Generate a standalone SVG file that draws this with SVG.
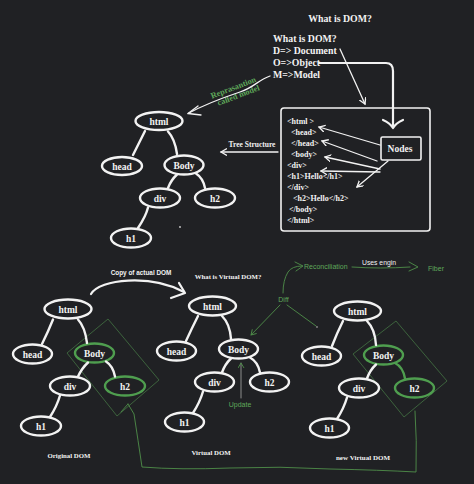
<svg xmlns="http://www.w3.org/2000/svg" width="474" height="484" viewBox="0 0 474 484">
<style>
.bg{fill:#202124}
.n ellipse{fill:#202124;stroke:#f2f2f2;stroke-width:2.4}
.n.g ellipse{stroke:#4f9e4f}
.n text{font-family:"Liberation Serif",serif;font-weight:bold;font-size:9.5px;fill:#f2f2f2;text-anchor:middle}
.e{fill:none;stroke:#f2f2f2;stroke-width:2.4;stroke-linecap:round}
.eg{fill:none;stroke:#4f9e4f;stroke-width:2.4;stroke-linecap:round}
.w{fill:none;stroke:#f2f2f2;stroke-width:1.3;stroke-linecap:round;stroke-linejoin:round}
.wt{fill:none;stroke:#f2f2f2;stroke-width:2.2;stroke-linecap:round;stroke-linejoin:round}
.gl{fill:none;stroke:#4f8f4a;stroke-width:0.9;stroke-linecap:round;stroke-linejoin:round}
.gr{fill:none;stroke:#3f6a3f;stroke-width:0.9}
.s{font-family:"Liberation Serif",serif;font-weight:bold;fill:#f2f2f2}
.c{font-family:"Liberation Serif",serif;font-weight:bold;font-size:8px;fill:#f2f2f2}
.ss{font-family:"Liberation Sans",sans-serif;fill:#f2f2f2}
.gt{font-family:"Liberation Sans",sans-serif;fill:#5fa85a;font-size:7px}
.mid{text-anchor:middle}
</style>
<defs>
<marker id="aw" markerUnits="userSpaceOnUse" markerWidth="10" markerHeight="10" refX="6" refY="3.5" orient="auto">
<path d="M0,0 L6,3.5 L0,7" fill="none" stroke="#f2f2f2" stroke-width="1.3"/>
</marker>
<marker id="ag" markerUnits="userSpaceOnUse" markerWidth="10" markerHeight="10" refX="5" refY="3" orient="auto">
<path d="M0,0 L5,3 L0,6" fill="none" stroke="#4f8f4a" stroke-width="0.9"/>
</marker>
</defs>
<rect class="bg" x="0" y="0" width="474" height="484"/>

<!-- top text -->
<g id="title">
<text class="s mid" x="340" y="22" font-size="9.8">What is DOM?</text>
</g>
<g id="dom-def" class="s" font-size="9.8">
<text x="273" y="42">What is DOM?</text>
<text x="273" y="54">D=&gt; Document</text>
<text x="273" y="66">O=&gt;Object</text>
<text x="273" y="78">M=&gt;Model</text>
</g>
<g id="rep-label" transform="translate(235,92) rotate(-21)">
<text class="s mid" x="0" y="-2" font-size="8.3" fill="#5fa85a" style="fill:#5fa85a">Reprasantion</text>
<text class="s mid" x="2" y="7" font-size="8.3" style="fill:#5fa85a">called model</text>
</g>

<!-- code box -->
<g id="code">
<rect x="281" y="108" width="149" height="123" rx="3" fill="none" stroke="#f2f2f2" stroke-width="1.6"/>
<text class="c" x="287" y="124">&lt;html &gt;</text>
<text class="c" x="291" y="135">&lt;head&gt;</text>
<text class="c" x="291" y="146">&lt;/head&gt;</text>
<text class="c" x="291" y="157">&lt;body&gt;</text>
<text class="c" x="287" y="168">&lt;div&gt;</text>
<text class="c" x="287" y="179">&lt;h1&gt;Hello&lt;/h1&gt;</text>
<text class="c" x="287" y="190">&lt;/div&gt;</text>
<text class="c" x="293" y="201">&lt;h2&gt;Hello&lt;/h2&gt;</text>
<text class="c" x="289" y="212">&lt;/body&gt;</text>
<text class="c" x="287" y="223">&lt;/html&gt;</text>
</g>
<g id="nodes-box">
<rect x="381" y="137" width="40" height="23" rx="1.5" fill="#202124" stroke="#f2f2f2" stroke-width="1.6"/>
<text class="s mid" x="400" y="152" font-size="9.5">Nodes</text>
</g>
<g id="tree-structure-label">
<text class="s mid" x="252" y="147" font-size="7.5">Tree Structure</text>
</g>

<!-- top tree -->
<g id="t-html" class="n"><ellipse cx="159" cy="121" rx="23.5" ry="9"/><text x="159" y="124.5">html</text></g>
<g id="t-head" class="n"><ellipse cx="122" cy="166" rx="20" ry="9"/><text x="122" y="169.5">head</text></g>
<g id="t-body" class="n"><ellipse cx="184" cy="165" rx="19.5" ry="9.5"/><text x="184" y="168.5">Body</text></g>
<g id="t-div" class="n"><ellipse cx="160" cy="198" rx="20" ry="9.5"/><text x="160" y="201.5">div</text></g>
<g id="t-h2" class="n"><ellipse cx="215" cy="198" rx="20" ry="9.5"/><text x="215" y="201.5">h2</text></g>
<g id="t-h1" class="n"><ellipse cx="131" cy="238" rx="20" ry="9.5"/><text x="131" y="241.5">h1</text></g>

<!-- bottom labels -->
<g id="labels-bottom">
<text class="ss mid" x="141" y="275" font-size="6.4" font-weight="bold">Copy of actual DOM</text>
<text class="s mid" x="228" y="278.5" font-size="6.8">What is Virtual DOM?</text>
<text class="s mid" x="69" y="457.5" font-size="6.8">Original DOM</text>
<text class="s mid" x="211" y="454.5" font-size="6.8">Virtual DOM</text>
<text class="s mid" x="363" y="459.5" font-size="7">new Virtual DOM</text>
<text class="gt" x="304" y="268.5">Reconciliation</text>
<text class="ss mid" x="379" y="264.5" font-size="6.8">Uses engin</text>
<text class="gt mid" x="436" y="270.5">Fiber</text>
<text class="gt mid" x="283.5" y="301.5" font-size="7.3">Diff</text>
<text class="gt mid" x="240" y="406.5">Update</text>
</g>

<!-- highlight frames -->
<g id="frames">
<polygon class="gr" points="67,353 108,319 159,380 117,416"/>
<polygon class="gr" points="353,354 396,321 447,381 404,417"/>
</g>

<!-- original DOM -->
<g id="o-html" class="n"><ellipse cx="68" cy="309" rx="23.5" ry="9.5"/><text x="68" y="312.5">html</text></g>
<g id="o-head" class="n"><ellipse cx="32.5" cy="354" rx="19.5" ry="9.5"/><text x="32.5" y="357.5">head</text></g>
<g id="o-body" class="n g"><ellipse cx="94.5" cy="353" rx="19.5" ry="9.5"/><text x="94.5" y="356.5">Body</text></g>
<g id="o-div" class="n"><ellipse cx="70" cy="386" rx="20" ry="9.5"/><text x="70" y="389.5">div</text></g>
<g id="o-h2" class="n g"><ellipse cx="125" cy="386" rx="20" ry="9.5"/><text x="125" y="389.5">h2</text></g>
<g id="o-h1" class="n"><ellipse cx="41" cy="426" rx="20" ry="9.5"/><text x="41" y="429.5">h1</text></g>

<!-- virtual DOM -->
<g id="v-html" class="n"><ellipse cx="212.5" cy="306" rx="23.5" ry="9.5"/><text x="212.5" y="309.5">html</text></g>
<g id="v-head" class="n"><ellipse cx="176.5" cy="351" rx="19.5" ry="9.5"/><text x="176.5" y="354.5">head</text></g>
<g id="v-body" class="n"><ellipse cx="238.5" cy="349" rx="19.5" ry="9.5"/><text x="238.5" y="352.5">Body</text></g>
<g id="v-div" class="n"><ellipse cx="214.5" cy="382" rx="19.5" ry="9.5"/><text x="214.5" y="385.5">div</text></g>
<g id="v-h2" class="n"><ellipse cx="269.5" cy="382" rx="19.5" ry="9.5"/><text x="269.5" y="385.5">h2</text></g>
<g id="v-h1" class="n"><ellipse cx="184.5" cy="422" rx="19.5" ry="9.5"/><text x="184.5" y="425.5">h1</text></g>

<!-- new virtual DOM -->
<g id="n-html" class="n"><ellipse cx="357.5" cy="311" rx="23.5" ry="9.5"/><text x="357.5" y="314.5">html</text></g>
<g id="n-head" class="n"><ellipse cx="321.5" cy="356" rx="19.5" ry="9.5"/><text x="321.5" y="359.5">head</text></g>
<g id="n-body" class="n g"><ellipse cx="383.5" cy="355" rx="19.5" ry="9.5"/><text x="383.5" y="358.5">Body</text></g>
<g id="n-div" class="n"><ellipse cx="359" cy="388" rx="20" ry="9.5"/><text x="359" y="391.5">div</text></g>
<g id="n-h2" class="n g"><ellipse cx="414.5" cy="388" rx="19.5" ry="9.5"/><text x="414.5" y="391.5">h2</text></g>
<g id="n-h1" class="n"><ellipse cx="329.5" cy="428" rx="19.5" ry="9.5"/><text x="329.5" y="431.5">h1</text></g>

<!-- connectors -->
<g id="connectors">
<!-- top tree edges -->
<path class="e" d="M145,131 Q139,143 133,155"/>
<path class="e" d="M168,131.5 Q175,139 177,154"/>
<path class="e" d="M177,174.5 Q171,180 168,188"/>
<path class="e" d="M196,173.5 Q203,178 205,188"/>
<path class="e" d="M148,207.5 Q146,216 138,228"/>
<!-- original edges -->
<path class="e" d="M53,319.5 Q48,332 42,344"/>
<path class="e" d="M78,319.5 Q85,327 87,343"/>
<path class="e" d="M88,362.5 Q82,368 78,376.5"/>
<path class="e" d="M106,361.5 Q113,366 115,376.5"/>
<path class="e" d="M60,395.5 Q57,406 50,417"/>
<!-- virtual edges -->
<path class="e" d="M198,316 Q192,328 186,341"/>
<path class="e" d="M222,316 Q230,324 231,339"/>
<path class="e" d="M231,358.5 Q225,364 222,372.5"/>
<path class="e" d="M250,357.5 Q258,362 260,372.5"/>
<path class="e" d="M203,391.5 Q200,402 193,413"/>
<!-- new edges -->
<path class="e" d="M343,321 Q337,333 332,346"/>
<path class="e" d="M367,321 Q375,329 376,345"/>
<path class="e" d="M376,364.5 Q370,370 367,378.5"/>
<path class="eg" d="M395,363 Q403,367 405,378.5"/>
<path class="e" d="M347,397.5 Q344,408 337,419"/>

<!-- DOM text arrows -->
<path class="w" d="M340,49 L365,104" marker-end="url(#aw)"/>
<path class="wt" d="M319,63 L386,63 Q393,63 393,71 L393,127"/>
<path class="wt" d="M383,120 Q390,123 393,128 Q396,123 403,120"/>
<path class="w" d="M270,76 C258,80 255,87 240,92 C222,98 200,107 188,113.5"/>
<path class="w" d="M198,106 L188,113.5 L201,115"/>
<path class="w" d="M278,152 L221,152" marker-end="url(#aw)"/>
<!-- Nodes arrows -->
<path class="w" d="M380,145 L319,127" marker-end="url(#aw)"/>
<path class="w" d="M377,161 L322,141" marker-end="url(#aw)"/>
<path class="w" d="M380,169 L325,157" marker-end="url(#aw)"/>
<path class="w" d="M380,172 L321,171" marker-end="url(#aw)"/>
<path class="w" d="M388,161 L357,187" marker-end="url(#aw)"/>

<!-- copy arrow -->
<path class="wt" d="M91,294 C100,279 150,274 184,292"/>
<path class="wt" d="M179,283 L185,293 L171,298"/>

<!-- green flows -->
<path class="gl" d="M283,293 Q283,280 288,272 Q292,266 302,266"/>
<path class="gl" d="M295,262 L303,266 L296,271"/>
<path class="gl" d="M352,267 Q380,269 410,267"/>
<path class="gl" d="M409,262 L418,267 L409,271"/>
<path class="gl" d="M280,305 L251,335" marker-end="url(#ag)"/>
<path class="gl" d="M287,305 L316,326"/>
<circle cx="317" cy="327" r="0.9" fill="#8a8a8a"/>
<path class="gl" d="M241,398 L241,363" marker-end="url(#ag)" style="stroke:#9a9a9a"/>
<path class="gl" d="M415,411 Q417,440 416,472 Q380,470 330,469 Q280,466 230,468 Q180,470 142,467 Q138,440 134,414 L128,404"/>
<path class="gl" d="M121,412 L128,404"/>

<!-- stray dot -->
<circle cx="180" cy="227" r="0.9" fill="#d0d0d0"/>
</g>
</svg>
